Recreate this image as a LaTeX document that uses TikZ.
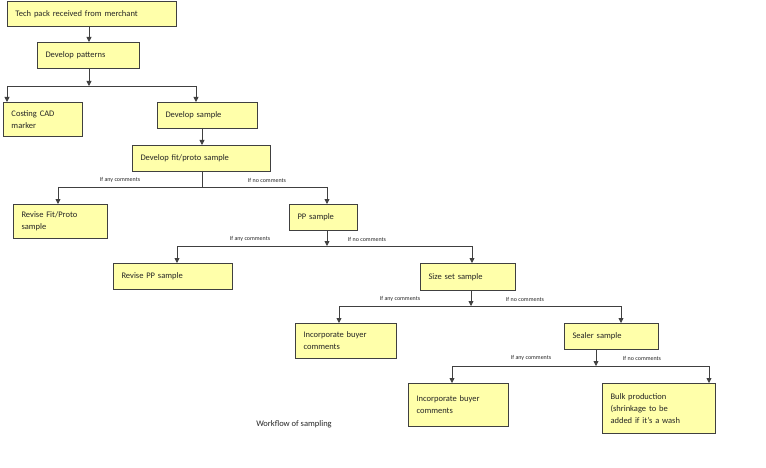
\documentclass[tikz,border=0pt]{standalone}
\usepackage{fontspec}
\setmainfont{Carlito}
\usetikzlibrary{arrows.meta}
\begin{document}
\begin{tikzpicture}[x=1pt,y=-1pt,
  box/.style={draw=black!75,line width=1pt,fill={rgb,255:red,255;green,255;blue,170},anchor=north west,inner sep=0pt,font=\fontsize{8.5}{12}\selectfont,text=black!85,align=left},
  arr/.style={draw=black!75,line width=0.8pt,-{Triangle[length=5pt,width=5pt]}},
  ln/.style={draw=black!75,line width=0.8pt},
  lab/.style={font=\fontsize{6}{7}\selectfont,text=black!85}]
\useasboundingbox (0,0) rectangle (766,468);
\newcommand{\bx}[6]{\node[box,minimum width={#4-#2},minimum height={#5-#3},text width={#4-#2-16}] (#1) at (#2,#3) {\hspace*{0pt}#6};}
\bx{a}{7}{1}{176}{26}{Tech pack received from merchant}
\bx{b}{37}{42}{139}{68}{Develop patterns}
\bx{c}{3}{102}{82}{136}{Costing CAD\\marker}
\bx{d}{157}{102}{257}{128}{Develop sample}
\bx{e}{132}{145}{270}{171}{Develop fit/proto sample}
\bx{f}{13}{204}{107}{238}{Revise Fit/Proto\\sample}
\bx{g}{289}{204}{357}{230}{PP sample}
\bx{h}{113}{263}{232}{289}{Revise PP sample}
\bx{i}{420}{263}{515}{290}{Size set sample}
\bx{j}{295}{323}{396}{358}{Incorporate buyer\\comments}
\bx{k}{564}{323}{658}{349}{Sealer sample}
\bx{l}{408}{383}{508}{426}{Incorporate buyer\\comments}
\bx{m}{602}{383}{715}{433}{Bulk production\\(shrinkage to be\\added if it's a wash}
\node[font=\fontsize{8.5}{10}\selectfont,text=black!85] (cap) at (294,424) {Workflow of sampling};
% level 1
\draw[arr] (89,26) -- (89,42);
\coordinate (j1) at (89,86);
\draw[arr] (89,68) -- (j1);
\draw[ln] (7,86) -- (196,86);
\draw[arr] (7,86) -- (7,102);
\draw[arr] (196,86) -- (196,102);
\draw[arr] (202,128) -- (202,145);
% fit/proto
\draw[ln] (202,171) -- (202,187);
\draw[ln] (58,187) -- (327,187);
\draw[arr] (58,187) -- (58,204);
\draw[arr] (327,187) -- (327,204);
\node[lab] (l1) at (120,180) {If any comments};
\node[lab] (l2) at (267,180) {If no comments};
% PP
\draw[arr] (327,230) -- (327,246);
\draw[ln] (177,246) -- (472,246);
\draw[arr] (177,246) -- (177,263);
\draw[arr] (472,246) -- (472,263);
\node[lab] (l3) at (250,239) {If any comments};
\node[lab] (l4) at (367,239) {If no comments};
% size set
\draw[arr] (471,290) -- (471,306);
\draw[ln] (339,306) -- (621,306);
\draw[arr] (339,306) -- (339,323);
\draw[arr] (621,306) -- (621,323);
\node[lab] (l5) at (400,299) {If any comments};
\node[lab] (l6) at (525,299) {If no comments};
% sealer
\draw[arr] (596,349) -- (596,366);
\draw[ln] (452,366) -- (709,366);
\draw[arr] (452,366) -- (452,383);
\draw[arr] (709,366) -- (709,383);
\node[lab] (l7) at (531,358) {If any comments};
\node[lab] (l8) at (642,358) {If no comments};
\end{tikzpicture}
\end{document}
